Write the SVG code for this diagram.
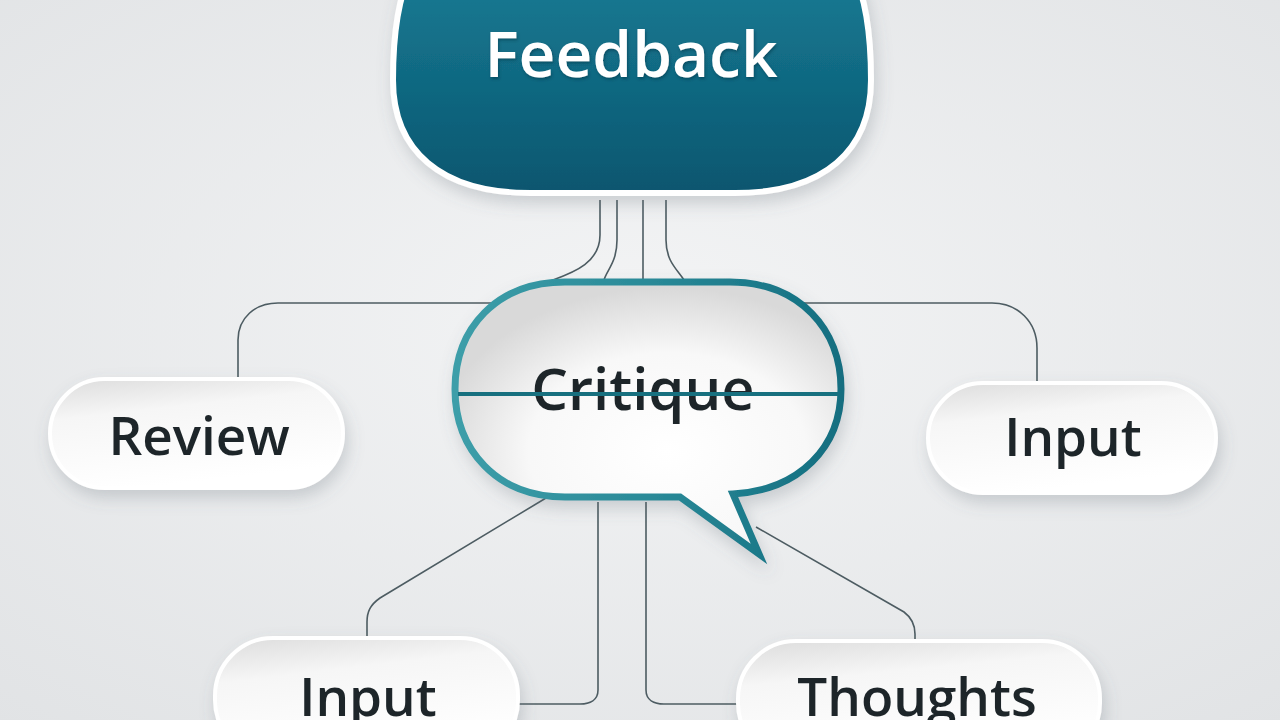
<svg xmlns="http://www.w3.org/2000/svg" width="1280" height="720" viewBox="0 0 1280 720">
  <defs>
    <radialGradient id="bg" cx="50%" cy="45%" r="75%">
      <stop offset="0" stop-color="#f3f4f5"/>
      <stop offset="1" stop-color="#e1e3e5"/>
    </radialGradient>
    <linearGradient id="fbFill" x1="0" y1="0" x2="0" y2="1">
      <stop offset="0" stop-color="#167b94"/>
      <stop offset="1" stop-color="#0b566f"/>
    </linearGradient>
    <linearGradient id="bubStroke" x1="0" y1="0" x2="1" y2="0">
      <stop offset="0" stop-color="#3d9ea9"/>
      <stop offset="0.5" stop-color="#2a8a98"/>
      <stop offset="1" stop-color="#136e80"/>
    </linearGradient>
    <radialGradient id="bubFill" cx="55%" cy="62%" r="60%">
      <stop offset="0" stop-color="#ffffff"/>
      <stop offset="0.6" stop-color="#f8f8f8"/>
      <stop offset="1" stop-color="#d9d9d9"/>
    </radialGradient>
    <linearGradient id="pillFill" x1="0" y1="0" x2="0.3" y2="1">
      <stop offset="0" stop-color="#dcdcdc"/>
      <stop offset="0.35" stop-color="#f6f6f6"/>
      <stop offset="1" stop-color="#ffffff"/>
    </linearGradient>
    <filter id="shadow" x="-20%" y="-20%" width="140%" height="160%">
      <feDropShadow dx="3" dy="8" stdDeviation="8" flood-color="#5a6a72" flood-opacity="0.25"/>
    </filter>
    <filter id="tshadow" x="-10%" y="-30%" width="120%" height="160%">
      <feDropShadow dx="1" dy="2" stdDeviation="1.5" flood-color="#03303f" flood-opacity="0.5"/>
    </filter>
  </defs>
  <style>
    .conn { fill: none; stroke: #4d5c62; stroke-width: 1.6; }
    .pill { fill: url(#pillFill); stroke: #ffffff; stroke-width: 4; filter: url(#shadow); }
    .label { font-family: "Open Sans", "Noto Sans", "DejaVu Sans", sans-serif; font-weight: 600; fill: #1d2529; text-anchor: middle; }
  </style>

  <rect width="1280" height="720" fill="url(#bg)"/>

  <g id="connectors">
    <path class="conn" d="M 600 200 L 600 235 C 600 262 575 272 553 280"/>
    <path class="conn" d="M 617 200 L 617 240 C 617 262 607 270 604 280"/>
    <path class="conn" d="M 643 200 L 643 280"/>
    <path class="conn" d="M 666 200 L 666 240 C 666 262 678 270 684 280"/>
    <path class="conn" d="M 495 303 L 278 303 C 255 303 238 318 238 340 L 238 378"/>
    <path class="conn" d="M 800 303 L 992 303 C 1018 303 1037 322 1037 348 L 1037 382"/>
    <path class="conn" d="M 546 498 L 380 598 C 370 605 367 612 367 622 L 367 638"/>
    <path class="conn" d="M 598 502 L 598 690 C 598 700 590 704 580 704 L 518 704"/>
    <path class="conn" d="M 646 502 L 646 690 C 646 700 654 704 664 704 L 740 704"/>
    <path class="conn" d="M 756 527 L 904 612 C 912 618 915 626 915 634 L 915 642"/>
  </g>

  <g id="feedback">
    <path d="M 412 -30 C 399 -5 393 30 393 80 C 393 150 440 193 530 193 L 735 193 C 825 193 871 150 871 80 C 871 30 865 -5 852 -30 Z" fill="url(#fbFill)" stroke="#ffffff" stroke-width="6" filter="url(#shadow)"/>
    <text x="631" y="77" font-size="64" font-weight="600" fill="#ffffff" text-anchor="middle" font-family="Open Sans, Noto Sans, DejaVu Sans, sans-serif" filter="url(#tshadow)">Feedback</text>
  </g>

  <g id="critique">
    <path d="M 565 282 L 730 282 C 800 282 841 330 841 389 C 841 447 800 490 733 494 L 759 554 L 680 497 L 565 497 C 497 497 455 450 455 389 C 455 328 497 282 565 282 Z" fill="url(#bubFill)" stroke="url(#bubStroke)" stroke-width="7" stroke-linejoin="miter" filter="url(#shadow)"/>
    <text class="label" x="643" y="410" font-size="58" fill="#1f2b31">Critique</text>
    <line x1="458" y1="394" x2="838" y2="394" stroke="#17707f" stroke-width="4"/>
  </g>

  <g id="review">
    <rect class="pill" x="50" y="379" width="293" height="109" rx="54.5"/>
    <text class="label" x="199" y="455" font-size="53">Review</text>
  </g>

  <g id="input-right">
    <rect class="pill" x="928" y="383" width="288" height="110" rx="55"/>
    <text class="label" x="1073" y="456" font-size="53">Input</text>
  </g>

  <g id="input-bottom">
    <rect class="pill" x="215" y="638" width="303" height="120" rx="58"/>
    <text class="label" x="368" y="716" font-size="53">Input</text>
  </g>

  <g id="thoughts">
    <rect class="pill" x="738" y="641" width="362" height="120" rx="58"/>
    <text class="label" x="917" y="716" font-size="53">Thoughts</text>
  </g>
</svg>
